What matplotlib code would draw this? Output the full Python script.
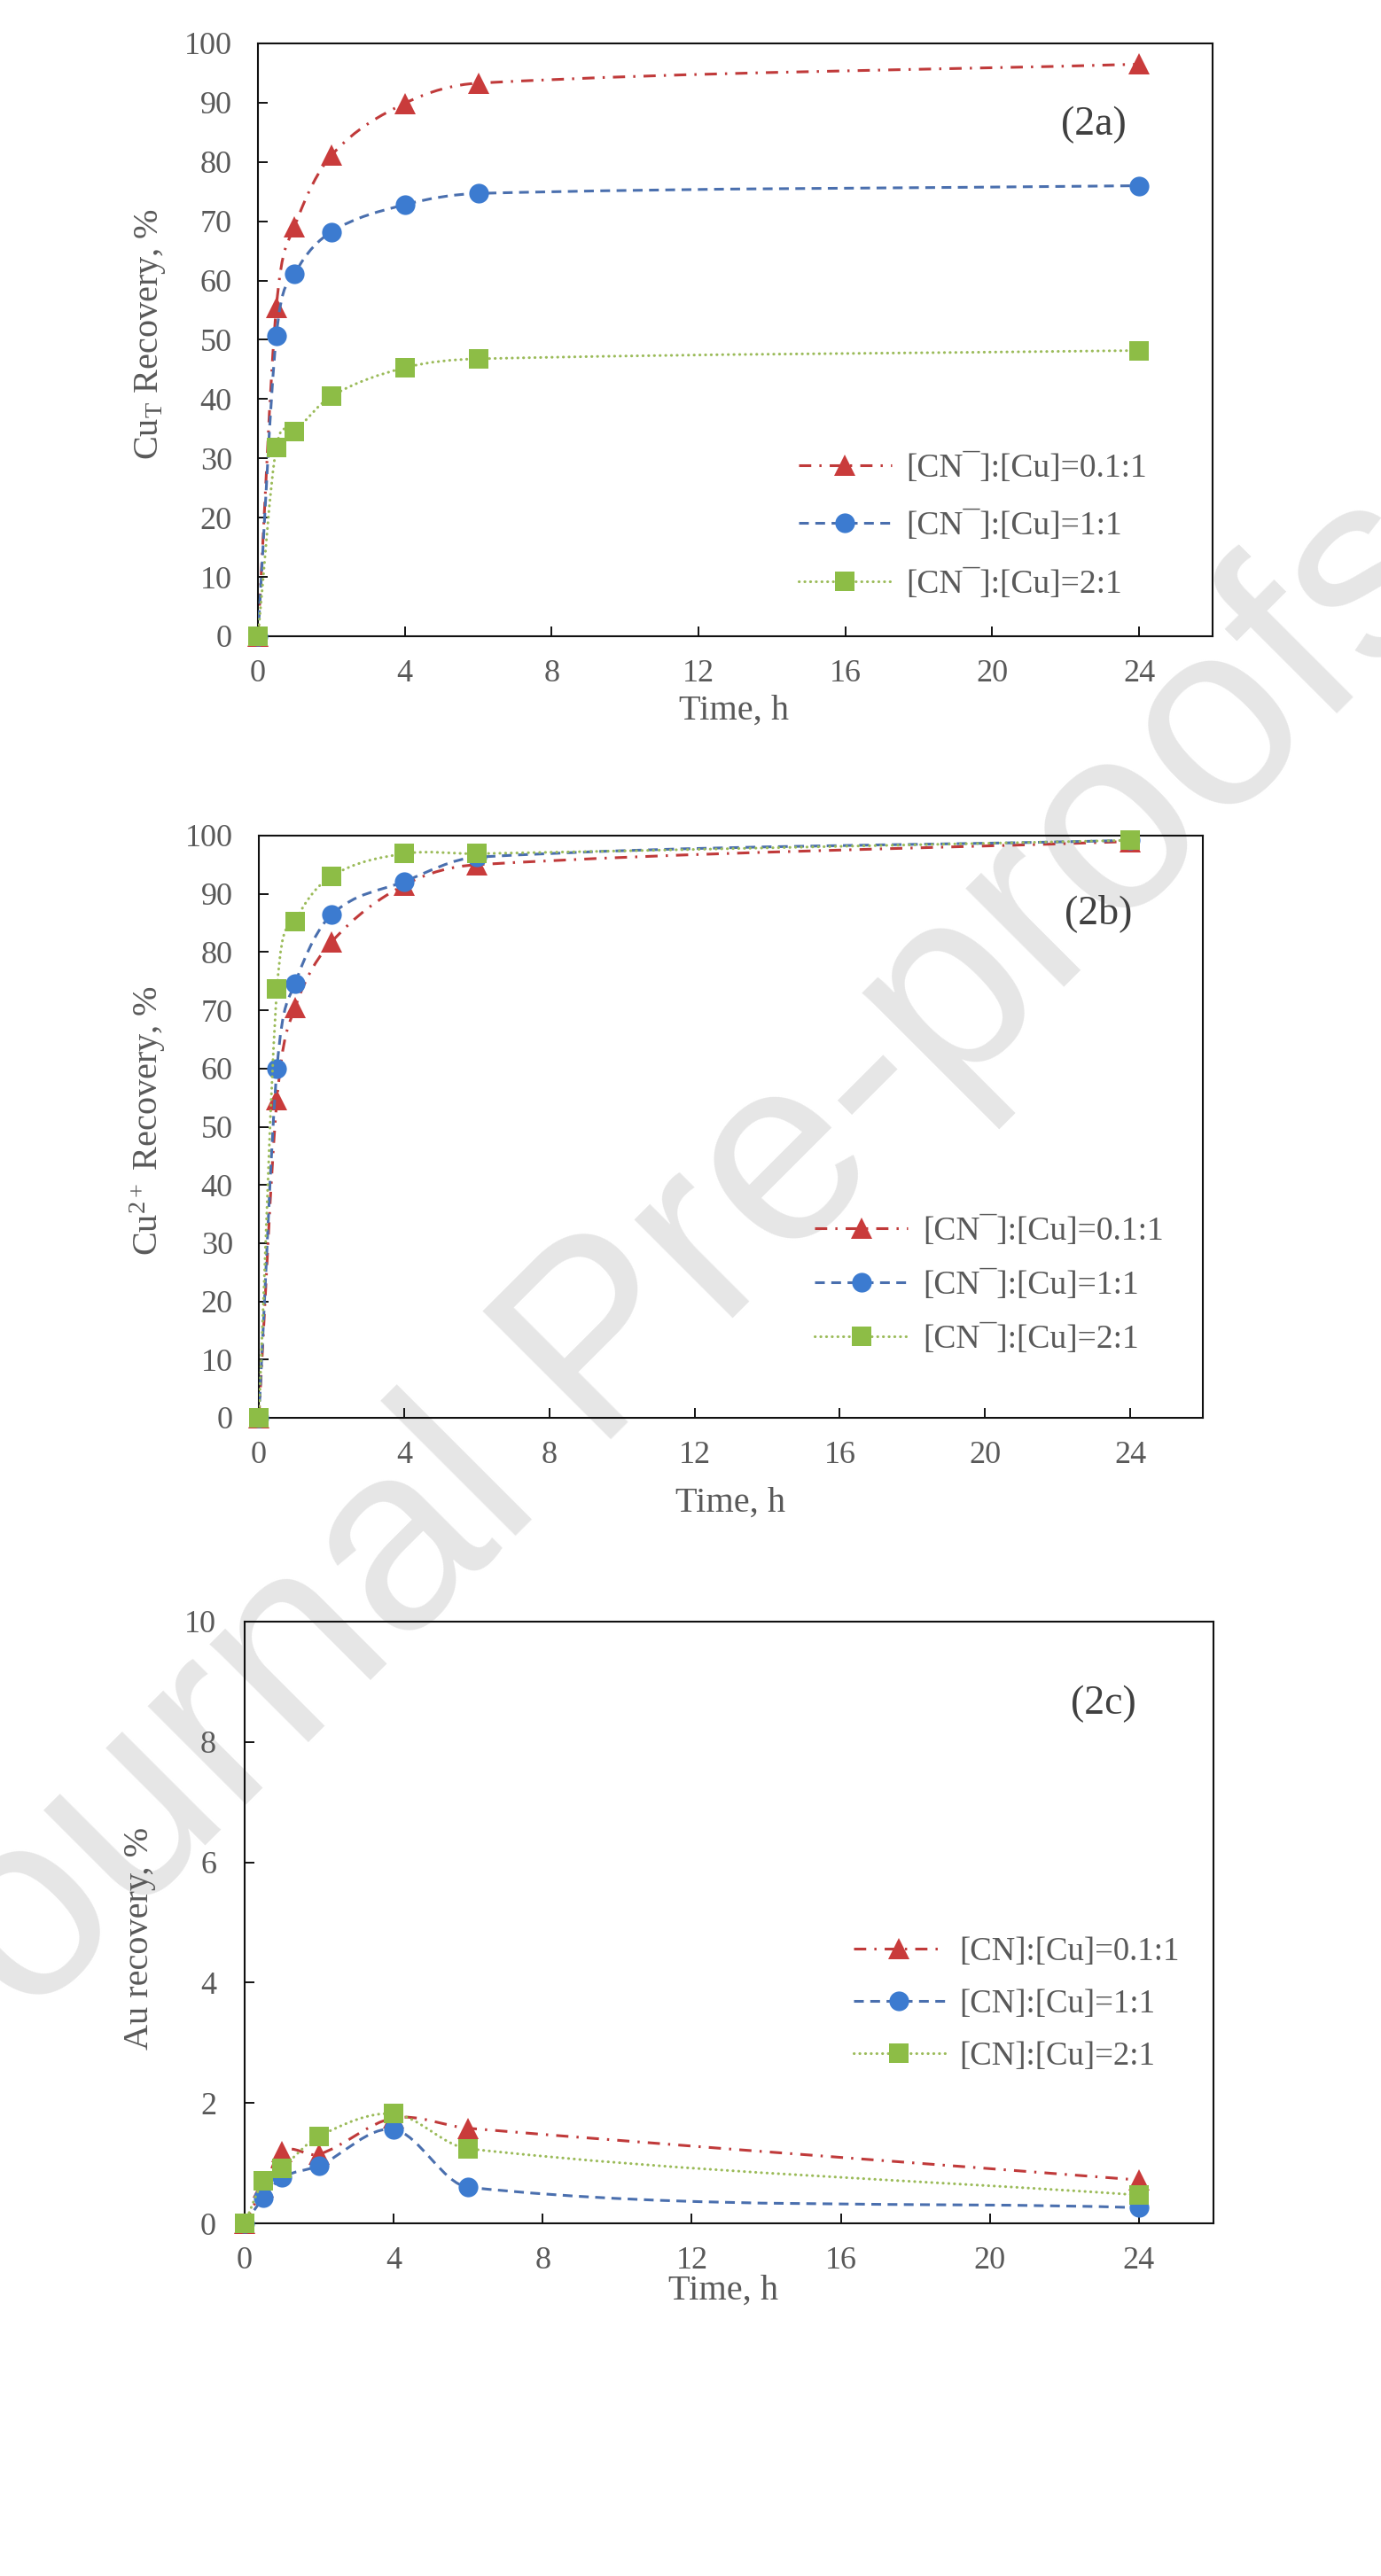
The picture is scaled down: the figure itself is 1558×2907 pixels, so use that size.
import numpy as np
import matplotlib
matplotlib.use("Agg")
import matplotlib.pyplot as plt
from matplotlib.path import Path
from matplotlib.patches import PathPatch
from matplotlib.lines import Line2D

plt.rcParams['font.family'] = ['Liberation Serif', 'DejaVu Serif']
plt.rcParams['mathtext.fontset'] = 'custom'
plt.rcParams['mathtext.rm'] = 'Liberation Serif'
plt.rcParams['mathtext.it'] = 'Liberation Serif:italic'
plt.rcParams['mathtext.bf'] = 'Liberation Serif:bold'

# ---------------- data ----------------
time_h = [0, 0.5, 1, 2, 4, 6, 24]
x_ticks = [0, 4, 8, 12, 16, 20, 24]

series_labels_ab = ['[CN¯]:[Cu]=0.1:1', '[CN¯]:[Cu]=1:1', '[CN¯]:[Cu]=2:1']
series_labels_c = ['[CN]:[Cu]=0.1:1', '[CN]:[Cu]=1:1', '[CN]:[Cu]=2:1']

cuT_01 = [0, 55.4, 69.1, 81.1, 89.9, 93.3, 96.5]
cuT_1 = [0, 50.6, 61.1, 68.2, 72.8, 74.7, 76.0]
cuT_2 = [0, 31.8, 34.5, 40.5, 45.3, 46.8, 48.2]

cu2_01 = [0, 54.7, 70.5, 81.7, 91.5, 95.0, 99.0]
cu2_1 = [0, 60.0, 74.6, 86.4, 92.1, 96.3, 99.2]
cu2_2 = [0, 73.6, 85.2, 93.0, 96.9, 96.9, 99.2]

au_01 = [0, 0.60, 1.20, 1.15, 1.75, 1.58, 0.72]
au_1 = [0, 0.42, 0.76, 0.96, 1.56, 0.60, 0.26]
au_2 = [0, 0.70, 0.92, 1.45, 1.82, 1.24, 0.47]

y_ticks_ab = [0, 10, 20, 30, 40, 50, 60, 70, 80, 90, 100]
y_ticks_c = [0, 2, 4, 6, 8, 10]

# ---------------- styles ----------------
line_colors = ['#C03A3A', '#4A6FAE', '#9BBB59']
marker_colors = ['#C93B3B', '#3C7BD0', '#8DBD46']
markers = ['^', 'o', 's']
marker_sizes = [17, 16, 16]
linestyles = [(0, (4.5, 3.0, 0.8, 3.0)), (0, (3.6, 2.4)), (0, (0.1, 2.0))]
capstyles = ['butt', 'butt', 'round']
LW = 2.2
TXT = '#595959'


def smooth_path(x, y):
    x = np.asarray(x, float)
    y = np.asarray(y, float)
    n = len(x)
    m = np.empty(n)
    m[0] = (y[1] - y[0]) / (x[1] - x[0])
    m[-1] = (y[-1] - y[-2]) / (x[-1] - x[-2])
    for i in range(1, n - 1):
        m[i] = (y[i + 1] - y[i - 1]) / (x[i + 1] - x[i - 1])
    verts = [(x[0], y[0])]
    codes = [Path.MOVETO]
    for i in range(n - 1):
        h = x[i + 1] - x[i]
        verts += [(x[i] + h / 3, y[i] + m[i] * h / 3),
                  (x[i + 1] - h / 3, y[i + 1] - m[i + 1] * h / 3),
                  (x[i + 1], y[i + 1])]
        codes += [Path.CURVE4] * 3
    return Path(verts, codes)


W, H = 1558, 2907
fig = plt.figure(figsize=(W / 100, H / 100), dpi=100)
fig.patch.set_facecolor('white')

# watermark
fig.text(0.4724, 0.494, 'Journal Pre-proofs', fontsize=214, family='Liberation Sans',
         color='#e6e6e6', rotation=45, rotation_mode='anchor', ha='center', va='center',
         zorder=-10)


def px_axes(l, r, t, b):
    return fig.add_axes([l / W, 1 - b / H, (r - l) / W, (b - t) / H])


panels = [
    dict(box=(291, 1368, 49, 718), data=[cuT_01, cuT_1, cuT_2], ylim=(0, 100), yticks=y_ticks_ab,
         ylabel='Cu$_{\\rm T}$ Recovery, %', ylab_xy=(-0.0947, 0.51), xlab_xy=(0.499, -0.098),
         tag='(2a)', tag_xy=(0.8756, 0.863), labels=series_labels_ab,
         leg_xy=(0.566, 0.185), leg_fs=27, leg_ls=0.82, ypad=21),
    dict(box=(292, 1357, 943, 1600), data=[cu2_01, cu2_1, cu2_2], ylim=(0, 100), yticks=y_ticks_ab,
         ylabel='Cu$^{2+}$ Recovery, %', ylab_xy=(-0.0967, 0.51), xlab_xy=(0.5, -0.118),
         tag='(2b)', tag_xy=(0.889, 0.866), labels=series_labels_ab,
         leg_xy=(0.589, 0.227), leg_fs=27, leg_ls=0.70, ypad=21),
    dict(box=(276, 1369, 1830, 2509), data=[au_01, au_1, au_2], ylim=(0, 10), yticks=y_ticks_c,
         ylabel='Au recovery, %', ylab_xy=(-0.0915, 0.473), xlab_xy=(0.494, -0.085),
         tag='(2c)', tag_xy=(0.8866, 0.863), labels=series_labels_c,
         leg_xy=(0.6285, 0.364), leg_fs=26.5, leg_ls=0.67, ypad=23),
]

for p in panels:
    ax = px_axes(*p['box'])
    ax.patch.set_alpha(0)
    ax.set_xlim(0, 26)
    ax.set_ylim(*p['ylim'])
    ax.set_xticks(x_ticks)
    ax.set_yticks(p['yticks'])
    ax.tick_params(direction='in', length=8, width=1.3, colors='black', labelcolor=TXT,
                   labelsize=26)
    ax.tick_params(axis='x', pad=19)
    ax.tick_params(axis='y', pad=p['ypad'])
    for s in ax.spines.values():
        s.set_linewidth(1.5)
        s.set_color('#111111')

    handles = []
    for k, yv in enumerate(p['data']):
        patch = PathPatch(smooth_path(time_h, yv), fill=False, edgecolor=line_colors[k],
                          linewidth=LW, linestyle=linestyles[k], capstyle=capstyles[k],
                          zorder=2 + k)
        ax.add_patch(patch)
        ax.plot(time_h, yv, linestyle='none', marker=markers[k], ms=marker_sizes[k],
                mfc=marker_colors[k], mec=marker_colors[k], mew=0, clip_on=False,
                zorder=2.5 + k)
        h = Line2D([], [], color=line_colors[k], lw=LW, linestyle=linestyles[k],
                   dash_capstyle=capstyles[k], marker=markers[k], ms=marker_sizes[k],
                   mfc=marker_colors[k], mec=marker_colors[k], mew=0)
        handles.append(h)

    leg = ax.legend(handles, p['labels'], loc='center left', bbox_to_anchor=p['leg_xy'],
                    frameon=False, fontsize=p['leg_fs'], handlelength=2.8,
                    handletextpad=0.45, labelspacing=p['leg_ls'], borderpad=0,
                    borderaxespad=0, numpoints=1)
    for t in leg.get_texts():
        t.set_color(TXT)

    ax.set_ylabel(p['ylabel'], fontsize=29, color=TXT)
    ax.yaxis.set_label_coords(*p['ylab_xy'])
    ax.set_xlabel('Time, h', fontsize=29, color=TXT)
    ax.xaxis.set_label_coords(*p['xlab_xy'])
    ax.text(p['tag_xy'][0], p['tag_xy'][1], p['tag'], transform=ax.transAxes,
            fontsize=33, color='#404040', ha='center', va='center')

fig.savefig('out.png', dpi=100, facecolor='white')
